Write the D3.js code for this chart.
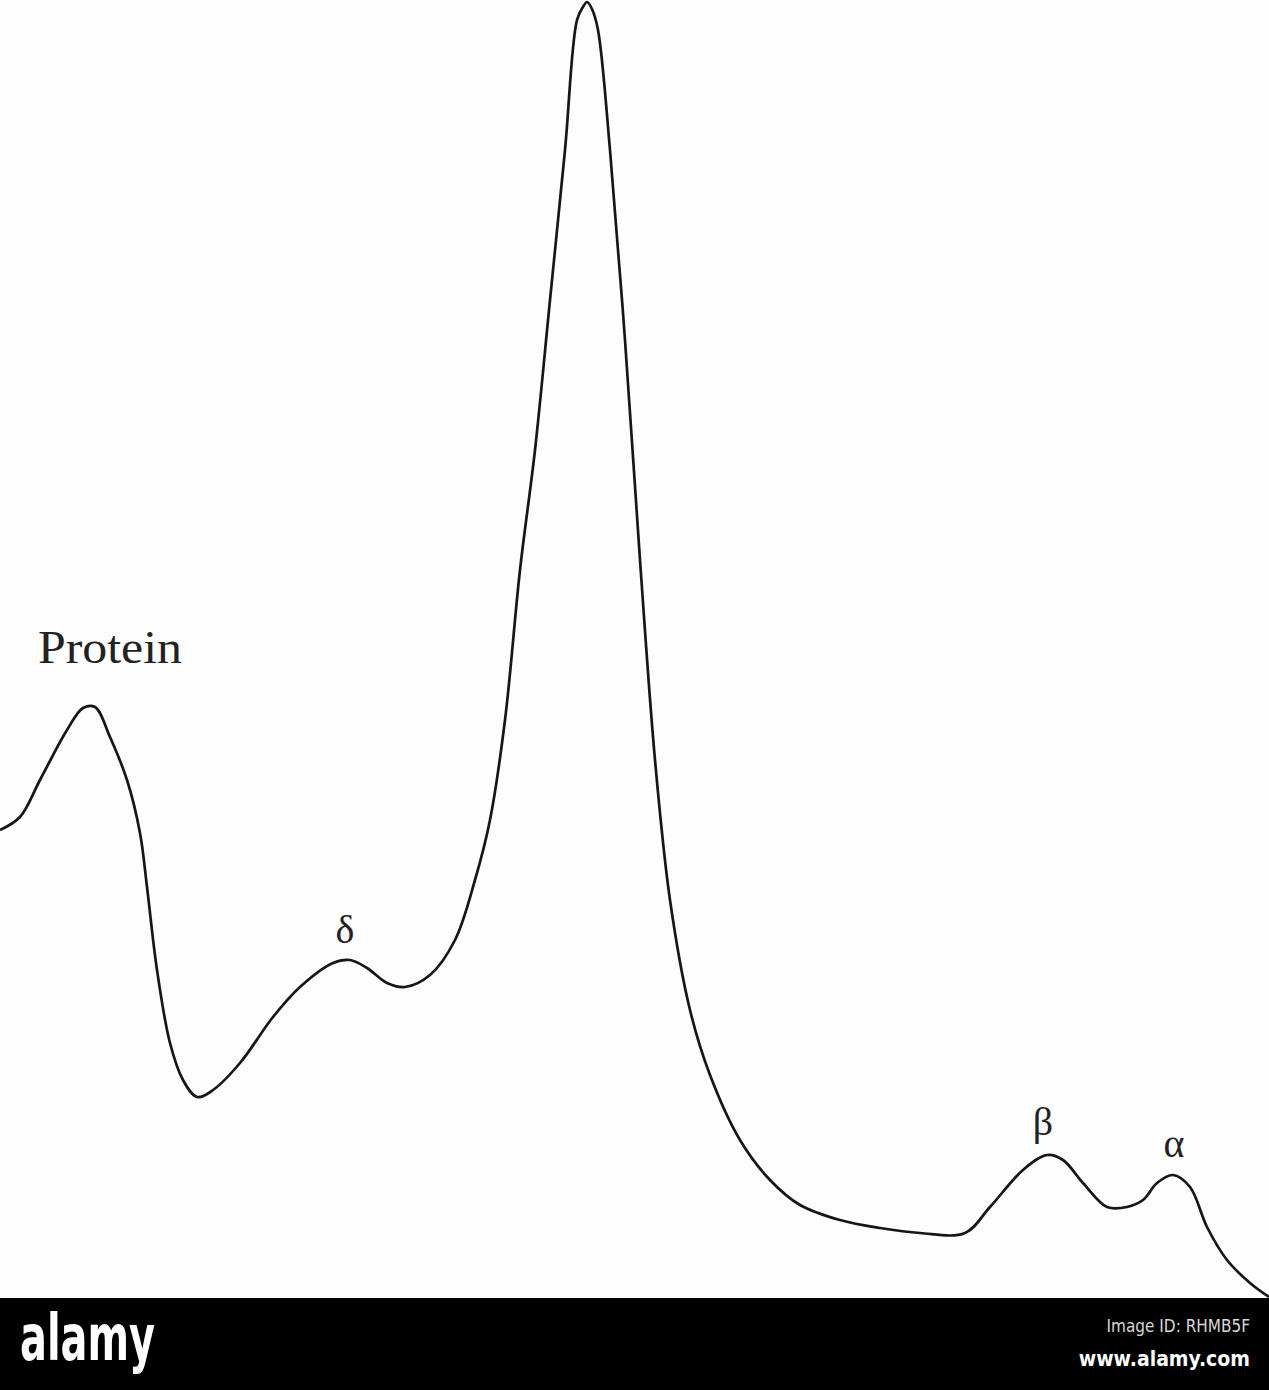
<!DOCTYPE html>
<html>
<head>
<meta charset="utf-8">
<script src="https://cdn.jsdelivr.net/npm/d3@7"></script>
<style>
  html, body { margin: 0; padding: 0; background: #fefdfd; }
  svg { display: block; }
</style>
</head>
<body>
<svg id="chart" width="1269" height="1390"></svg>
<script>
// Densitometer trace: migration distance (mm) vs. absorbance (arbitrary units)
const distance = [0, 2, 4, 6.7, 8.3, 9.5, 11, 12.7, 14, 14.7, 15.7, 17, 18.3, 19.7, 21.3, 24, 27.3, 30, 33.3, 35, 36.7, 38.7, 40.5, 43, 45.5, 47.5, 49, 50.5, 52, 53.5, 55, 56.5, 57.7, 58.3, 58.7, 59.2, 59.8, 61, 62.5, 64, 65.5, 67, 69, 71, 74, 77, 80, 84, 88, 92, 96.5, 99, 102.3, 104.7, 106.3, 108.3, 110.7, 112.7, 114.3, 115.7, 117.3, 119, 120.7, 122.7, 125, 126.9];
const absorbance = [47, 48.3, 52, 57, 59.2, 59.3, 56.3, 52, 46.7, 41.3, 33, 25.7, 22, 20.3, 21, 23.7, 28.3, 31.3, 33.7, 34, 33.2, 31.7, 31.3, 32.5, 36, 42, 48, 58, 73, 85, 100, 115, 128, 129.3, 129.8, 129.1, 127, 115, 96, 74, 54, 40, 29, 22.5, 16, 12, 9.5, 8, 7.2, 6.7, 6.7, 9.3, 13, 14.5, 14, 11.7, 9.3, 9.3, 10, 11.7, 12.5, 11.3, 7.3, 4, 1.7, 0.3];

const peakLabels = ["Protein", "δ", "β", "α"];
const peakLabelX = [11.0, 34.5, 104.3, 117.4];
const peakLabelY = [63.7, 35.7, 16.5, 14.3];

const footerTexts = ["alamy", "Image ID: RHMB5F", "www.alamy.com"];

const W = 1269, H = 1390, plotBottom = 1300;
const svg = d3.select("#chart");

svg.append("rect").attr("x", 0).attr("y", 0).attr("width", W).attr("height", plotBottom)
  .attr("fill", "#fefdfd");

const x = d3.scaleLinear().domain([0, 126.9]).range([0, W]);
const y = d3.scaleLinear().domain([0, 130]).range([plotBottom, 0]);

const pts = distance.map((d, i) => [d, absorbance[i]]);

const line = d3.line()
  .x(d => x(d[0]))
  .y(d => y(d[1]))
  .curve(d3.curveCatmullRom.alpha(0.5));

svg.append("path")
  .datum(pts)
  .attr("d", line)
  .attr("fill", "none")
  .attr("stroke", "#161616")
  .attr("stroke-width", 2.7)
  .attr("stroke-linejoin", "round");

svg.selectAll("text.peak")
  .data(peakLabels)
  .enter().append("text")
  .attr("class", "peak")
  .attr("x", (d, i) => x(peakLabelX[i]))
  .attr("y", (d, i) => y(peakLabelY[i]))
  .attr("text-anchor", "middle")
  .attr("font-family", "'Liberation Serif', 'Times New Roman', serif")
  .attr("font-size", (d, i) => i === 0 ? 46 : 40)
  .attr("fill", "#222")
  .attr("textLength", (d, i) => i === 0 ? 144 : null)
  .attr("lengthAdjust", "spacingAndGlyphs")
  .text(d => d);

// footer bar
svg.append("rect").attr("x", 0).attr("y", plotBottom - 2).attr("width", W).attr("height", H - plotBottom + 2)
  .attr("fill", "#000");

svg.append("text")
  .attr("x", 20).attr("y", 1360)
  .attr("font-family", "'DejaVu Sans Condensed', 'DejaVu Sans', sans-serif")
  .attr("font-weight", "bold")
  .attr("font-size", 64)
  .attr("textLength", 135)
  .attr("lengthAdjust", "spacingAndGlyphs")
  .attr("fill", "#fff")
  .text(footerTexts[0]);

svg.append("text")
  .attr("x", 1250).attr("y", 1332)
  .attr("text-anchor", "end")
  .attr("font-family", "'DejaVu Sans Condensed', 'DejaVu Sans', sans-serif")
  .attr("font-size", 17)
  .attr("fill", "#d8d8d8")
  .text(footerTexts[1]);

svg.append("text")
  .attr("x", 1250).attr("y", 1366)
  .attr("text-anchor", "end")
  .attr("font-family", "'DejaVu Sans Condensed', 'DejaVu Sans', sans-serif")
  .attr("font-weight", "bold")
  .attr("font-size", 21)
  .attr("fill", "#fff")
  .text(footerTexts[2]);
</script>
</body>
</html>
